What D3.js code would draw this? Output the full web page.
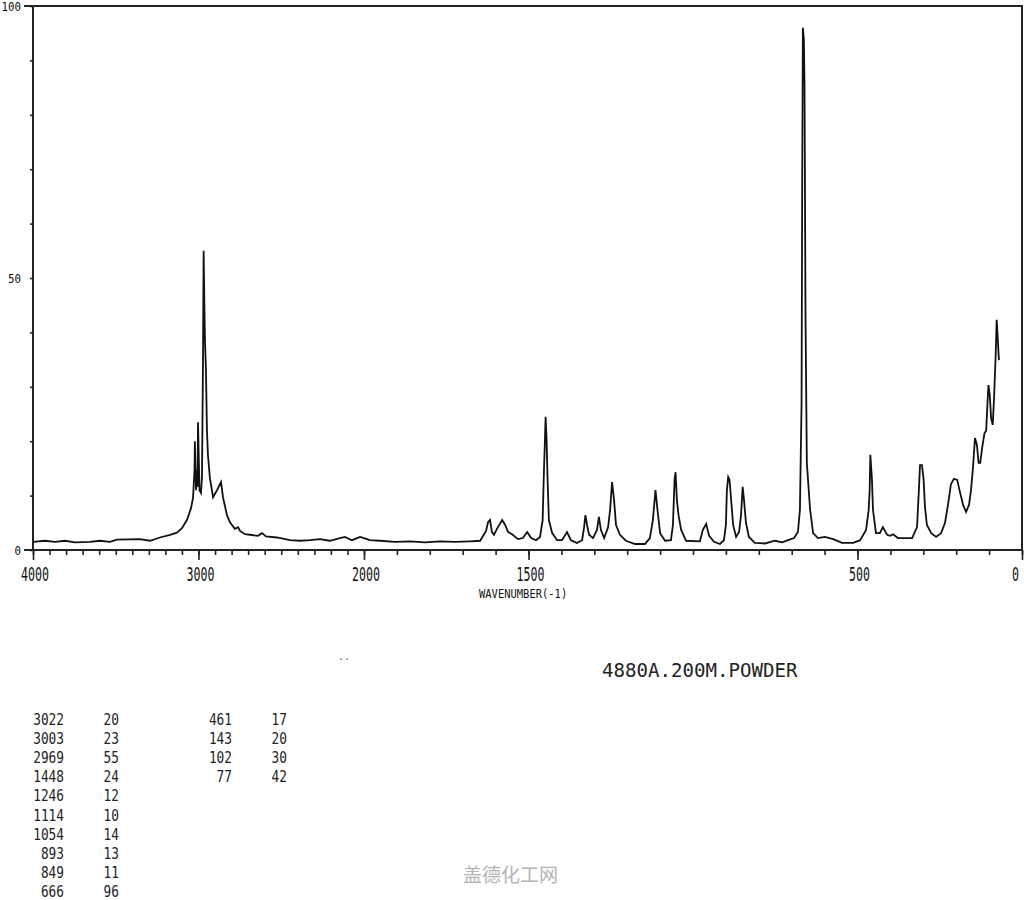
<!DOCTYPE html>
<html>
<head>
<meta charset="utf-8">
<script src="https://cdn.jsdelivr.net/npm/d3@7"></script>
<style>
body { margin: 0; background: #fff; }
svg { display: block; }
</style>
</head>
<body>
<div id="container"></div>
<script>
/* Data: raman spectrum, [wavenumber, intensity] */
var spectrum = [
	[4000,1.5],[3927,1.7],[3867,1.5],[3807,1.7],[3746,1.4],[3656,1.5],[3595,1.7],[3535,1.5],[3492,1.9],[3354,2.0],
	[3293,1.7],[3233,2.3],[3172,2.8],[3130,3.2],[3100,4.0],[3070,5.5],[3045,7.7],[3033,9.6],[3024,14.7],[3022,20],
	[3015,11],[3009,14.7],[3006,11.6],[3003,23.5],[2994,11],[2985,10.5],[2979,13.4],[2973,34],[2969,55],[2964,44],
	[2961,38.6],[2955,33],[2949,22],[2943,17.5],[2931,13.2],[2912,9.7],[2888,11],[2864,12.5],[2852,9.7],[2828,6.4],
	[2810,5.1],[2780,3.9],[2761,4.2],[2749,3.5],[2719,2.9],[2689,2.8],[2641,2.6],[2616,3.1],[2592,2.5],[2526,2.3],
	[2447,1.8],[2387,1.7],[2326,1.8],[2266,2.0],[2206,1.7],[2145,2.2],[2115,2.4],[2073,1.8],[2024,2.4],[2000,2.2],
	[1982,1.8],[1951,1.7],[1906,1.5],[1860,1.6],[1815,1.4],[1769,1.6],[1723,1.5],[1678,1.6],[1647,1.7],[1629,3.5],
	[1623,5.1],[1617,5.5],[1611,3.3],[1605,2.8],[1593,4.2],[1580,5.5],[1571,4.6],[1562,3.3],[1550,2.9],[1532,2.0],
	[1517,2.2],[1504,3.3],[1492,2.2],[1477,1.8],[1465,2.4],[1457,5.5],[1453,14.7],[1450,20.2],[1448,24.5],[1445,20.2],
	[1442,12.9],[1438,5.5],[1428,3.1],[1413,1.8],[1398,1.8],[1383,3.3],[1371,1.8],[1353,1.3],[1337,1.8],[1331,4.2],
	[1327,6.4],[1322,4.6],[1316,2.8],[1304,2.2],[1292,3.7],[1286,6.1],[1280,3.7],[1270,2.2],[1258,4.2],[1252,7.4],
	[1246,12.5],[1240,9.2],[1234,4.6],[1222,2.8],[1204,1.7],[1176,1.1],[1146,1.1],[1131,2.2],[1122,5.5],[1114,11],
	[1108,7.4],[1100,3.1],[1085,1.7],[1067,1.8],[1061,4.6],[1056,13],[1053,14.3],[1049,9.2],[1044,6.4],[1036,3.7],
	[1021,1.7],[979,1.6],[970,3.7],[960,4.8],[951,2.6],[936,1.5],[918,1.1],[906,1.8],[900,4.6],[897,11],
	[893,13.4],[889,12.9],[884,9.2],[878,4.6],[869,2.4],[860,3.3],[854,6.4],[849,11.6],[845,9.2],[839,5.0],
	[830,2.4],[812,1.3],[781,1.2],[751,1.7],[729,1.4],[711,1.8],[693,2.2],[681,3.3],[675,7.4],[670,27],
	[668,68.6],[666,96],[663,93.8],[661,85.1],[658,42.8],[654,16],[644,7.4],[635,3.1],[620,2.2],[599,2.4],
	[574,2.0],[547,1.3],[513,1.3],[492,1.8],[474,3.7],[466,7.4],[463,11],[461,17.5],[456,12.9],[453,7.4],
	[444,3.1],[432,3.1],[423,4.2],[410,2.8],[401,2.6],[392,2.9],[377,2.2],[334,2.2],[319,4.2],[313,11.6],
	[310,15.6],[304,15.6],[299,12.9],[295,7.9],[289,4.6],[276,3.1],[261,2.4],[246,3.1],[234,5.0],[225,8.3],
	[216,12.1],[207,13.1],[197,12.9],[188,10.5],[179,8.3],[170,7.0],[161,8.3],[155,11],[149,15.1],[143,20.6],
	[137,19.3],[132,16],[127,16],[121,18.8],[114,21.5],[109,21.9],[106,25.7],[102,30.3],[98,28.5],[94,24.3],
	[89,23],[85,27.9],[80,35.8],[77,42.3],[75,40.4],[71,35.8],[70,34.9]
];

/* Peak table */
var peakWn = [3022, 3003, 2969, 1448, 1246, 1114, 1054, 893, 849, 666, 461, 143, 102, 77];
var peakInt = [20, 23, 55, 24, 12, 10, 14, 13, 11, 96, 17, 20, 30, 42];

/* Tick labels */
var xMajor = [4000, 3000, 2000, 1500, 500, 0];
var yMajor = [0, 50, 100];
var xTitle = "WAVENUMBER(-1)";
var sampleName = "4880A.200M.POWDER";
var watermark = "盖德化工网";

var w = 1024, h = 900;
var mono = "'DejaVu Sans Mono', monospace";

var svg = d3.select('#container').append('svg')
	.attr('width', w)
	.attr('height', h);

/* Scales: 4000-2000 drawn at half the scale of 2000-0 */
var xScale = d3.scaleLinear()
		.domain([4000, 2000, 0])
		.range([33, 364, 1022]),
	yScale = d3.scaleLinear()
		.domain([0, 100])
		.range([550, 6]);

// squeezed text, like the plotter font
function narrow(sel, charW) {
	sel.attr('textLength', d => String(d).length * charW)
		.attr('lengthAdjust', 'spacingAndGlyphs');
}

/* X-Axis ticks */
var xMinor = d3.axisBottom(xScale)
	.tickValues(d3.range(0, 4001, 100))
	.tickSize(5)
	.tickSizeOuter(0)
	.tickFormat('');
var xMajorAxis = d3.axisBottom(xScale)
	.tickValues(xMajor)
	.tickSize(10)
	.tickSizeOuter(0)
	.tickFormat('');

svg.append('g').attr('transform', 'translate(0,550)').call(xMinor);
svg.append('g').attr('transform', 'translate(0,550)').call(xMajorAxis);

/* Y-Axis ticks */
var yMinor = d3.axisLeft(yScale)
	.tickValues(d3.range(0, 101, 10))
	.tickSize(3)
	.tickSizeOuter(0)
	.tickFormat('');
svg.append('g').attr('transform', 'translate(33,0)').call(yMinor);

svg.selectAll('.domain').remove();
svg.selectAll('.tick line').attr('stroke', '#222').attr('stroke-width', 1.6);

/* Frame */
svg.append('rect')
	.attr('x', 33).attr('y', 6)
	.attr('width', 1022 - 33).attr('height', 550 - 6)
	.attr('fill', 'none')
	.attr('stroke', '#222')
	.attr('stroke-width', 2);
svg.append('line').attr('x1', 24).attr('x2', 33).attr('y1', 6).attr('y2', 6)
	.attr('stroke', '#222').attr('stroke-width', 2);
svg.append('line').attr('x1', 24).attr('x2', 33).attr('y1', yScale(0)).attr('y2', yScale(0))
	.attr('stroke', '#222').attr('stroke-width', 2);

/* Tick labels */
svg.selectAll('.xlabel')
	.data(xMajor)
	.enter().append('text')
	.attr('class', 'xlabel')
	.attr('x', d => Math.min(xScale(d) + 2 - String(d).length * 3.5, 1019 - String(d).length * 7))
	.attr('y', 581)
	.attr('font-family', mono)
	.attr('font-size', 20)
	.attr('fill', '#111')
	.text(d => d)
	.call(narrow, 7);

svg.selectAll('.ylabel')
	.data(yMajor)
	.enter().append('text')
	.attr('class', 'ylabel')
	.attr('x', d => 21 - String(d).length * 6.5)
	.attr('y', d => Math.max(yScale(d) + 5, 11))
	.attr('font-family', mono)
	.attr('font-size', 13)
	.attr('fill', '#111')
	.text(d => d)
	.call(narrow, 6.5);

svg.append('text')
	.datum(xTitle)
	.attr('x', 479)
	.attr('y', 598)
	.attr('font-family', mono)
	.attr('font-size', 13)
	.attr('fill', '#111')
	.text(d => d)
	.call(narrow, 6.3);

/* Spectrum */
var line = d3.line()
	.x(d => xScale(d[0]))
	.y(d => yScale(d[1]));

svg.append('path')
	.datum(spectrum)
	.attr('d', line)
	.attr('fill', 'none')
	.attr('stroke', '#111')
	.attr('stroke-width', 1.8)
	.attr('stroke-linejoin', 'miter');

/* Sample name */
svg.append('text')
	.datum(sampleName)
	.attr('x', 602)
	.attr('y', 677)
	.attr('font-family', mono)
	.attr('font-size', 19)
	.attr('fill', '#222')
	.text(d => d)
	.call(narrow, 11.5);

svg.append('text')
	.attr('x', 338)
	.attr('y', 660)
	.attr('font-family', mono)
	.attr('font-size', 10)
	.attr('fill', '#666')
	.text('..');

/* Peak table: 10 rows per column pair */
var rowH = 19.1, row0 = 725;
var peaks = peakWn.map((d, i) => ({wn: d, val: peakInt[i], col: Math.floor(i / 10), row: i % 10}));
var colRight = [[64, 119], [232, 287]];

var cells = svg.selectAll('.peak')
	.data(peaks)
	.enter().append('g')
	.attr('class', 'peak')
	.attr('transform', d => 'translate(0,' + (row0 + d.row * rowH) + ')');

cells.append('text')
	.attr('x', d => colRight[d.col][0] - String(d.wn).length * 7.7)
	.attr('font-family', mono)
	.attr('font-size', 16)
	.attr('fill', '#222')
	.text(d => d.wn)
	.attr('textLength', d => String(d.wn).length * 7.7)
	.attr('lengthAdjust', 'spacingAndGlyphs');

cells.append('text')
	.attr('x', d => colRight[d.col][1] - String(d.val).length * 7.7)
	.attr('font-family', mono)
	.attr('font-size', 16)
	.attr('fill', '#222')
	.text(d => d.val)
	.attr('textLength', d => String(d.val).length * 7.7)
	.attr('lengthAdjust', 'spacingAndGlyphs');

/* Watermark */
svg.append('text')
	.attr('x', 463)
	.attr('y', 882)
	.attr('font-family', "'Noto Sans CJK SC', sans-serif")
	.attr('font-size', 19)
	.attr('fill', '#b4b4b4')
	.text(watermark);
</script>
</body>
</html>
